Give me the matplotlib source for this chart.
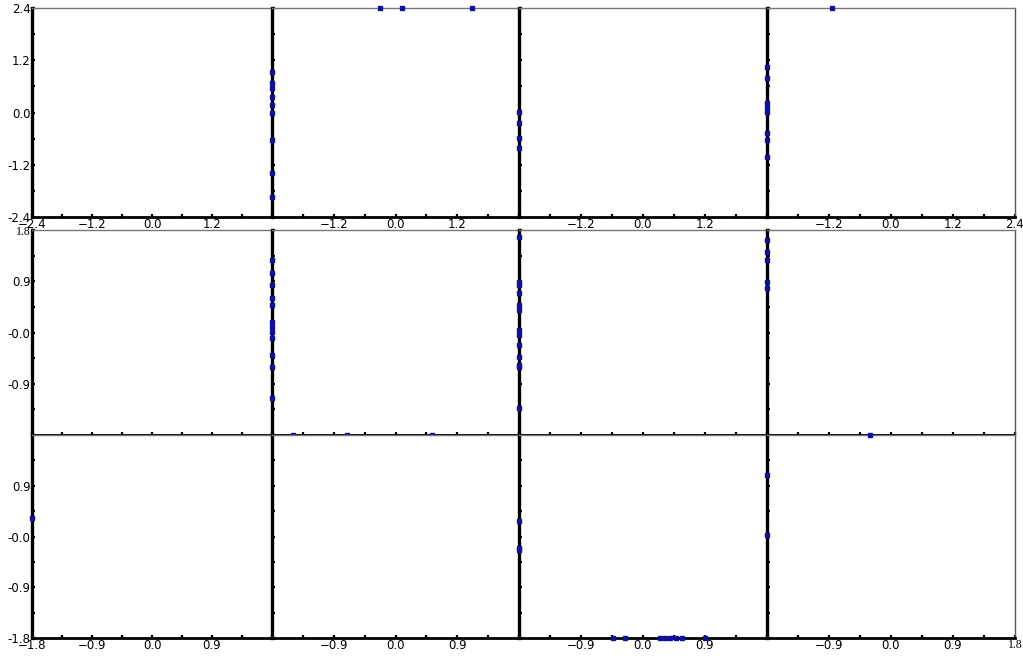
import matplotlib
matplotlib.use("Agg")
import matplotlib.pyplot as plt
from matplotlib.ticker import MultipleLocator

# axis half-range and label step per row
row_limits = [2.4, 1.8, 1.8]
row_steps = [1.2, 0.9, 0.9]

# y tick labels of the first column, per row
row1_ytick_vals = [2.4, 1.2, 0.0, -1.2, -2.4]
row1_ytick_text = ["2.4", "1.2", "0.0", "-1.2", "-2.4"]
row2_ytick_vals = [1.8, 0.9, 0.0, -0.9]
row2_ytick_text = ["1.8", "0.9", "-0.0", "-0.9"]
row3_ytick_vals = [0.9, 0.0, -0.9, -1.8]
row3_ytick_text = ["0.9", "-0.0", "-0.9", "-1.8"]

# points (most sit on panel edges)
r1_edge01_y = [0.93, 0.67, 0.56, 0.36, 0.17, -0.01, -0.63, -1.39, -1.94]
r1_edge12_y = [0.01, -0.24, -0.58, -0.82]
r1_edge23_y = [1.04, 0.79, 0.22, 0.12, 0.01, -0.47, -0.63, -1.02]
r1c1_top_x = [-0.30, 0.12, 1.48]
r1c3_top_x = [-1.14]

r2_edge01_y = [1.27, 1.04, 0.83, 0.61, 0.48, 0.19, 0.10, 0.01, -0.09, -0.39, -0.60, -1.15]
r2_edge12_y = [1.68, 0.89, 0.84, 0.70, 0.48, 0.40, 0.05, -0.04, -0.22, -0.43, -0.57, -0.60, -1.32]
r2_edge23_y = [1.62, 1.41, 1.27, 0.89, 0.78]
r2c1_bottom_x = [-1.49, -0.71, 0.53]

r3c0_left_y = [0.33]
r3c2_left_y = [0.27, -0.20, -0.24]
r3c2_bottom_x = [-0.44, -0.26, 0.25, 0.32, 0.39, 0.48, 0.56, 0.90]
r3c3_top_x = [-0.30]
r3c3_left_y = [1.09, 0.03]

W, H = 1023, 664
col_edges = [32, 272, 519, 767, 1015]
row_edges = [(8, 217), (230, 435), (435, 638)]
PT = "#10109a"
FONT = "DejaVu Sans"

fig = plt.figure(figsize=(W / 100, H / 100), dpi=100)
fig.patch.set_facecolor("white")

axes = []
for r, (top, bot) in enumerate(row_edges):
    row = []
    for c in range(4):
        x0, x1 = col_edges[c], col_edges[c + 1]
        ax = fig.add_axes([x0 / W, 1 - bot / H, (x1 - x0) / W, (bot - top) / H])
        lim = row_limits[r]
        step = row_steps[r]
        ax.set_xlim(-lim, lim)
        ax.set_ylim(-lim, lim)
        ax.xaxis.set_major_locator(MultipleLocator(step))
        ax.yaxis.set_major_locator(MultipleLocator(step))
        ax.xaxis.set_minor_locator(MultipleLocator(step / 2))
        ax.yaxis.set_minor_locator(MultipleLocator(step / 2))
        ax.tick_params(which="both", direction="in", length=2.5, width=1.6,
                       top=False, right=False, labelsize=8.5, pad=1.0,
                       labelleft=False, labelbottom=False)
        ax.spines["left"].set_linewidth(2.4)
        ax.spines["bottom"].set_linewidth(2.0 if r != 1 else 1.4)
        ax.spines["top"].set_linewidth(1.0)
        ax.spines["top"].set_color("#777777")
        ax.spines["right"].set_linewidth(1.0)
        ax.spines["right"].set_color("#555555")
        row.append(ax)
    axes.append(row)

# y labels on the first column
for r, (vals, text) in enumerate([(row1_ytick_vals, row1_ytick_text),
                                  (row2_ytick_vals, row2_ytick_text),
                                  (row3_ytick_vals, row3_ytick_text)]):
    ax = axes[r][0]
    ax.set_yticks(vals, text, fontfamily=FONT)
    ax.tick_params(axis="y", labelleft=True)
    ax.yaxis.set_minor_locator(MultipleLocator(row_steps[r] / 2))
axes[1][0].get_yticklabels()[0].set_fontfamily("Liberation Serif")

# x labels under rows 1 and 3
for r in (0, 2):
    lim = row_limits[r]
    step = row_steps[r]
    for c in range(4):
        ax = axes[r][c]
        vals = [-step, 0.0, step]
        if c == 0:
            vals = [-lim] + vals
        if c == 3:
            vals = vals + [lim]
        text = [f"{v:.1f}".replace("-", "\u2212") if v != 0 else "0.0" for v in vals]
        ax.set_xticks(vals, text, fontfamily=FONT)
        ax.tick_params(axis="x", labelbottom=True)
        ax.xaxis.set_minor_locator(MultipleLocator(step / 2))
axes[2][3].get_xticklabels()[-1].set_fontfamily("Liberation Serif")


def pts(ax, xs, ys):
    ax.plot(xs, ys, "s", ms=2.2, color=PT, mec=PT, clip_on=False, zorder=3)


# row 1
pts(axes[0][1], [-2.4] * len(r1_edge01_y), r1_edge01_y)
pts(axes[0][2], [-2.4] * len(r1_edge12_y), r1_edge12_y)
pts(axes[0][3], [-2.4] * len(r1_edge23_y), r1_edge23_y)
pts(axes[0][1], r1c1_top_x, [2.4] * len(r1c1_top_x))
pts(axes[0][3], r1c3_top_x, [2.4] * len(r1c3_top_x))

# row 2
pts(axes[1][1], [-1.8] * len(r2_edge01_y), r2_edge01_y)
pts(axes[1][2], [-1.8] * len(r2_edge12_y), r2_edge12_y)
pts(axes[1][3], [-1.8] * len(r2_edge23_y), r2_edge23_y)
pts(axes[1][1], r2c1_bottom_x, [-1.8] * len(r2c1_bottom_x))

# row 3
pts(axes[2][0], [-1.8] * len(r3c0_left_y), r3c0_left_y)
pts(axes[2][2], [-1.8] * len(r3c2_left_y), r3c2_left_y)
pts(axes[2][2], r3c2_bottom_x, [-1.8] * len(r3c2_bottom_x))
pts(axes[2][3], r3c3_top_x, [1.8] * len(r3c3_top_x))
pts(axes[2][3], [-1.8] * len(r3c3_left_y), r3c3_left_y)

fig.savefig("out.png", dpi=100, facecolor="white")
